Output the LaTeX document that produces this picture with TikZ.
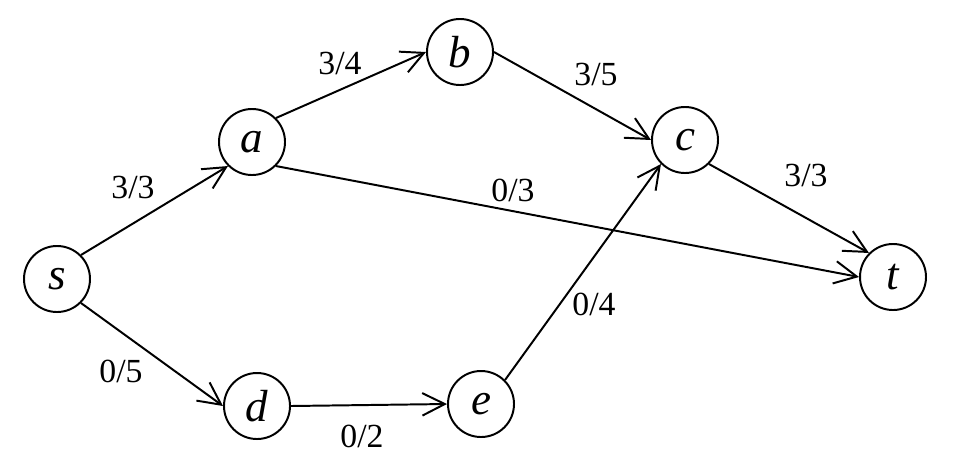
\documentclass[tikz,border=0pt]{standalone}
\usepackage{fontspec}
\setmainfont{Liberation Serif}
\usetikzlibrary{arrows.meta}
\tikzset{
	vert/.style={draw, circle, line width=1.4pt, minimum size=1.65cm, inner sep=0pt, font=\fontsize{32}{36}\selectfont\itshape},
	flow/.style={line width=1.4pt, -{Straight Barb[length=16pt,width=16pt,line width=1.4pt]}},
	flowlabel/.style={font=\fontsize{24}{28}\selectfont, inner sep=0pt}
}

\begin{document}
\begin{tikzpicture}[x=0.025cm, y=-0.025cm]
			%%%%% START %%%%%
			\useasboundingbox (0, 0) rectangle (953, 456);
			
			\node[vert] (s) at (57, 279) {s};
			\node[vert] (a) at (252, 142) {a};
			\node[vert] (b) at (460, 52) {b};
			\node[vert] (c) at (685, 140) {c};
			\node[vert] (t) at (893, 277) {t};
			\node[vert] (d) at (257, 406) {d};
			\node[vert] (e) at (481, 404) {e};
			
			\draw[flow] (s.north east) -- (a.south west);
			\draw[flow] (s.south east) -- (d.west);
			\draw[flow] (a.north east) -- (b.west);
			\draw[flow] (a.south east) -- (t.west);
			\draw[flow] (b.east) -- (c.west);
			\draw[flow] (c.south east) -- (t.north west);
			\draw[flow] (d.east) -- (e.west);
			\draw[flow] (e.north east) -- (c.south west);
			
			\node[flowlabel] (sa) at (133, 187) {3/3};
			\node[flowlabel] (sd) at (121, 371) {0/5};
			\node[flowlabel] (ab) at (340, 63) {3/4};
			\node[flowlabel] (at) at (513, 190) {0/3};
			\node[flowlabel] (bc) at (596, 74) {3/5};
			\node[flowlabel] (ct) at (806, 175) {3/3};
			\node[flowlabel] (de) at (362, 436) {0/2};
			\node[flowlabel] (ec) at (594, 304) {0/4};
			%%%%% END %%%%%
\end{tikzpicture}
\end{document}
